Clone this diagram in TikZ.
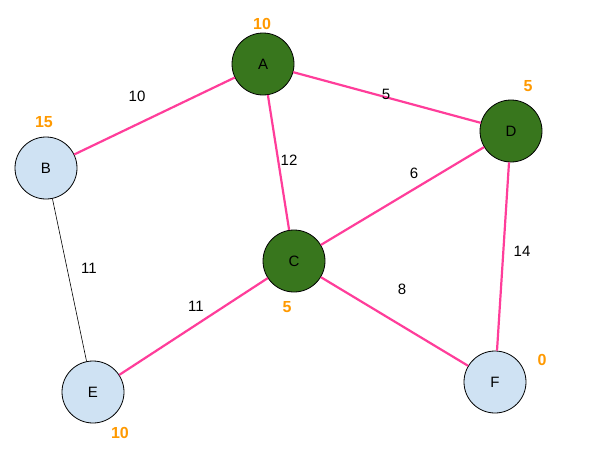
\documentclass[tikz,border=0pt]{standalone}
\usepackage{fontspec}
\setmainfont{Liberation Sans}
\definecolor{dg}{HTML}{38761D}
\definecolor{lb}{HTML}{CFE2F3}
\definecolor{pk}{HTML}{FF3D9A}
\definecolor{og}{HTML}{FF9900}
\begin{document}
\begin{tikzpicture}[x=1pt,y=-1pt,
  v/.style={circle,draw=black,line width=0.8pt,minimum size=62pt,inner sep=0pt,font=\fontsize{15}{17}\selectfont},
  g/.style={v,fill=dg},
  l/.style={v,fill=lb},
  e/.style={draw=pk,line width=2.2pt},
  lab/.style={font=\fontsize{15}{17}\selectfont},
  w/.style={font=\bfseries\fontsize{16}{18}\selectfont,text=og}]
\useasboundingbox (0,0) rectangle (604,463);
\node[g] (A) at (263,64) {A};
\node[l] (B) at (46,168) {B};
\node[g] (C) at (294,261) {C};
\node[g] (D) at (511,131) {D};
\node[l] (E) at (93,392) {E};
\node[l] (F) at (495,382) {F};
\draw[e] (A) -- (B);
\draw[e] (A) -- (D);
\draw[e] (A) -- (C);
\draw[e] (C) -- (D);
\draw[e] (D) -- (F);
\draw[e] (C) -- (F);
\draw[e] (C) -- (E);
\draw[black,line width=0.6pt] (B) -- (E);
\node[lab] (l1) at (137,96) {10};
\node[lab] (l2) at (386,94) {5};
\node[lab] (l3) at (289,160) {12};
\node[lab] (l4) at (414,173) {6};
\node[lab] (l5) at (89,268) {11};
\node[lab] (l6) at (196,306) {11};
\node[lab] (l7) at (402,289) {8};
\node[lab] (l8) at (522,251) {14};
\node[w] (wa) at (262,24) {10};
\node[w] (wb) at (44,122) {15};
\node[w] (wd) at (528,86) {5};
\node[w] (wc) at (287,307) {5};
\node[w] (wf) at (542,360) {0};
\node[w] (we) at (120,433) {10};
\end{tikzpicture}
\end{document}
